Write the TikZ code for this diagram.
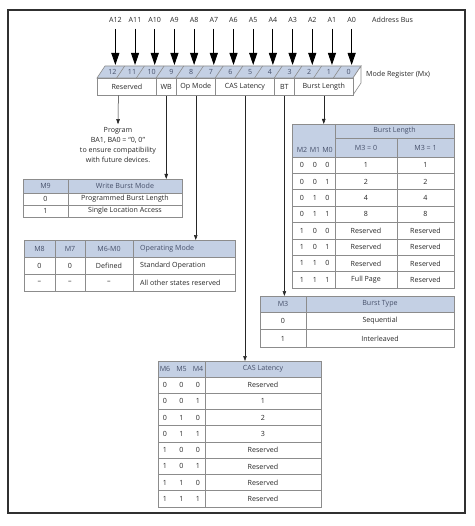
\documentclass[tikz,border=0pt]{standalone}
\usepackage{fontspec}
\setmainfont{Open Sans}
\usetikzlibrary{arrows.meta}
\definecolor{hdr}{HTML}{C4D0E4}
\definecolor{hdrtxt}{HTML}{46506A}
\definecolor{txt}{HTML}{262626}
\definecolor{grid}{HTML}{8C8C8C}
\definecolor{frame}{HTML}{303030}
\begin{document}
\begin{tikzpicture}[x=1pt,y=-1pt,
  t/.style={font=\fontsize{7.1}{8}\selectfont, text=txt, inner sep=0pt},
  ht/.style={font=\fontsize{7.1}{8}\selectfont, text=hdrtxt, inner sep=0pt},
  tabbox/.style={draw=grid, line width=0.6pt, inner sep=0pt, anchor=north west},
  gl/.style={draw=grid, line width=0.6pt},
  grp/.style={draw=grid, line width=0.6pt, fill=white, inner sep=0pt, anchor=north west, minimum height=17pt, font=\fontsize{7.1}{8}\selectfont, text=txt},
  conn/.style={draw=txt, line width=0.5pt, -{Triangle[length=5pt,width=3.5pt]}},
  addr/.style={draw=black, line width=0.9pt, -{Triangle[length=12pt,width=8pt]}}
]
\useasboundingbox (0,0) rectangle (474,526);
\draw[frame, line width=1.3pt] (8,10) rectangle (465,513);

% ---------- register ----------
\filldraw[fill=hdr, draw=grid, line width=0.6pt] (97,78) -- (105,66) -- (361,66) -- (353,78) -- cycle;
\filldraw[fill=white, draw=grid, line width=0.6pt] (353,78) -- (361,66) -- (361,83) -- (353,95) -- cycle;
\foreach \k in {1,...,12} {
  \draw[grid, line width=0.6pt] ({97+19.692*\k},78) -- ({105+19.692*\k},66);
}
\foreach \i in {0,...,12} {
  \pgfmathsetmacro\xx{97+19.692*(12-\i)+13.85}
  \node[t, text=hdrtxt] (b\i) at (\xx+1.5,72.3) {\i};
  \node[t] (A\i) at (\xx+4.5,20) {A\i};
  \coordinate (T\i) at (\xx+4.5,65);
  \draw[addr] ([yshift=-6pt]A\i.south) -- (T\i);
}
\node[t, anchor=west] (abus) at (372,20) {Address Bus};
\node[t, anchor=west] (mreg) at (366,75) {Mode Register (Mx)};

\node[grp, minimum width=59.08pt] (gRes) at (97,78) {Reserved};
\node[grp, minimum width=19.69pt] (gWB) at (156.08,78) {WB};
\node[grp, minimum width=39.38pt] (gOp) at (175.77,78) {Op Mode};
\node[grp, minimum width=59.08pt] (gCAS) at (215.15,78) {CAS Latency};
\node[grp, minimum width=19.69pt] (gBT) at (274.23,78) {BT};
\node[grp, minimum width=59.08pt] (gBL) at (293.92,78) {Burst Length};

% ---------- program note ----------
\node[t, align=center, font=\fontsize{7.1}{10}\selectfont] (prog) at (118,145) {Program\\BA1, BA0 = “0, 0”\\to ensure compatibility\\with future devices.};
\draw[conn] ([xshift=-8.5pt]gRes.south) -- ([yshift=3pt]prog.north);

% ---------- Write burst table ----------
\fill[hdr] (23,179) rectangle (182,193);
\node[tabbox, minimum width=159pt, minimum height=38pt] (wbtab) at (23,179) {};
\draw[gl] (23,193) -- (182,193) (23,205) -- (182,205) (68,179) -- (68,217);
\node[ht] (wbh1) at (45.5,186) {M9};
\node[ht] (wbh2) at (125,186) {Write Burst Mode};
\node[t] (wb01) at (45.5,199) {0};
\node[t] (wb02) at (125,199) {Programmed Burst Length};
\node[t] (wb11) at (45.5,211) {1};
\node[t] (wb12) at (125,211) {Single Location Access};
\draw[conn] (gWB.south) -- (gWB.south |- wbtab.north);

% ---------- Operating mode table ----------
\fill[hdr] (24,240) rectangle (235,257);
\node[tabbox, minimum width=211pt, minimum height=51pt] (optab) at (24,240) {};
\draw[gl] (24,257) -- (235,257) (24,274) -- (235,274)
  (55,240) -- (55,291) (85,240) -- (85,291) (133,240) -- (133,291);
\node[ht] (oph1) at (39.5,248.5) {M8};
\node[ht] (oph2) at (70,248.5) {M7};
\node[ht] (oph3) at (109,248.5) {M6-M0};
\node[ht, anchor=west] (oph4) at (140,248.5) {Operating Mode};
\node[t] (op01) at (39.5,265.5) {0};
\node[t] (op02) at (70,265.5) {0};
\node[t] (op03) at (109,265.5) {Defined};
\node[t, anchor=west] (op04) at (140,265.5) {Standard Operation};
\node[t] (op11) at (39.5,282.5) {–};
\node[t] (op12) at (70,282.5) {–};
\node[t] (op13) at (109,282.5) {–};
\node[t, anchor=west] (op14) at (140,282.5) {All other states reserved};
\draw[conn] (gOp.south) -- (gOp.south |- optab.north);

% ---------- Burst length table ----------
\fill[hdr] (292,124) rectangle (454,157);
\node[tabbox, minimum width=162pt, minimum height=164pt] (bltab) at (292,124) {};
\draw[gl] (335,138) -- (454,138) (292,157) -- (454,157)
  (335,124) -- (335,288) (397,138) -- (397,288);
\foreach \r in {1,...,7} { \draw[gl] (292,{157+16.375*\r}) -- (454,{157+16.375*\r}); }
\node[ht] (blh0) at (394.5,131) {Burst Length};
\node[ht] (blh1) at (302,150) {M2};
\node[ht] (blh2) at (315,150) {M1};
\node[ht] (blh3) at (327.5,150) {M0};
\node[ht] (blh4) at (366,147.5) {M3 = 0};
\node[ht] (blh5) at (425.5,147.5) {M3 = 1};
\foreach \a/\b/\c/\d/\e [count=\n from 0] in {0/0/0/1/1, 0/0/1/2/2, 0/1/0/4/4, 0/1/1/8/8,
  1/0/0/Reserved/Reserved, 1/0/1/Reserved/Reserved, 1/1/0/Reserved/Reserved, 1/1/1/Full Page/Reserved} {
  \pgfmathsetmacro\yy{157+16.375*\n+8.2}
  \node[t] (bl\n a) at (302,\yy) {\a};
  \node[t] (bl\n b) at (315,\yy) {\b};
  \node[t] (bl\n c) at (327.5,\yy) {\c};
  \node[t] (bl\n d) at (366,\yy) {\d};
  \node[t] (bl\n e) at (425.5,\yy) {\e};
}
\draw[conn] (gBL.south) -- (gBL.south |- bltab.north);

% ---------- Burst type table ----------
\fill[hdr] (260,296) rectangle (454,312);
\node[tabbox, minimum width=194pt, minimum height=51pt] (bttab) at (260,296) {};
\draw[gl] (260,312) -- (454,312) (260,329.5) -- (454,329.5) (306,296) -- (306,347);
\node[ht] (bth1) at (283,304) {M3};
\node[ht] (bth2) at (380,304) {Burst Type};
\node[t] (bt01) at (283,321) {0};
\node[t] (bt02) at (380,321) {Sequential};
\node[t] (bt11) at (283,338.5) {1};
\node[t] (bt12) at (380,338.5) {Interleaved};
\draw[conn] (gBT.south) -- (gBT.south |- bttab.north);

% ---------- CAS latency table ----------
\fill[hdr] (158,361) rectangle (321,377);
\node[tabbox, minimum width=163pt, minimum height=146pt] (castab) at (158,361) {};
\draw[gl] (158,377) -- (321,377) (205,361) -- (205,507);
\foreach \r in {1,...,7} { \draw[gl] (158,{377+16.25*\r}) -- (321,{377+16.25*\r}); }
\node[ht] (cah1) at (165,369) {M6};
\node[ht] (cah2) at (181.5,369) {M5};
\node[ht] (cah3) at (198,369) {M4};
\node[ht] (cah4) at (263,369) {CAS Latency};
\foreach \a/\b/\c/\d [count=\n from 0] in {0/0/0/Reserved, 0/0/1/1, 0/1/0/2, 0/1/1/3,
  1/0/0/Reserved, 1/0/1/Reserved, 1/1/0/Reserved, 1/1/1/Reserved} {
  \pgfmathsetmacro\yy{377+16.25*\n+8.1}
  \node[t] (ca\n a) at (165,\yy) {\a};
  \node[t] (ca\n b) at (181.5,\yy) {\b};
  \node[t] (ca\n c) at (198,\yy) {\c};
  \node[t] (ca\n d) at (263,\yy) {\d};
}
\draw[conn] (gCAS.south) -- (gCAS.south |- castab.north);
\end{tikzpicture}
\end{document}
